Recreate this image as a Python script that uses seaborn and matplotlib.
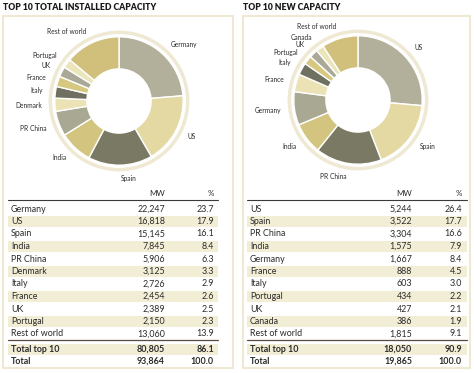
import numpy as np
import matplotlib.pyplot as plt
import seaborn as sns
from matplotlib.patches import Rectangle, Circle

# Top 10 total installed capacity (MW, %)
totalCountries = ['Germany', 'US', 'Spain', 'India', 'PR China', 'Denmark', 'Italy',
                  'France', 'UK', 'Portugal', 'Rest of world']
totalMW = [22247, 16818, 15145, 7845, 5906, 3125, 2726, 2454, 2389, 2150, 13060]
totalPct = [23.7, 17.9, 16.1, 8.4, 6.3, 3.3, 2.9, 2.6, 2.5, 2.3, 13.9]
totalSumMW = [80805, 93864]
totalSumPct = [86.1, 100.0]

# Top 10 new capacity (MW, %)
newCountries = ['US', 'Spain', 'PR China', 'India', 'Germany', 'France', 'Italy',
                'Portugal', 'UK', 'Canada', 'Rest of world']
newMW = [5244, 3522, 3304, 1575, 1667, 888, 603, 434, 427, 386, 1815]
newPct = [26.4, 17.7, 16.6, 7.9, 8.4, 4.5, 3.0, 2.2, 2.1, 1.9, 9.1]
newSumMW = [18050, 19865]
newSumPct = [90.9, 100.0]

sumLabels = ['Total top 10', 'Total']

sns.set_style('white')
plt.rcParams['font.family'] = ['Lato', 'DejaVu Sans']

sliceColors = sns.color_palette(['#b2b09a', '#e4d9a3', '#7a7a64', '#d3c580', '#a9a893',
                                 '#ebe2b6', '#6f7060', '#d6c880', '#aaa998', '#ece4bb',
                                 '#d0c07b'])
bandColor = '#f2edd5'
boxColor = '#efe9d3'
textColor = '#2b2b2b'
tableSize = 6.4

W, H = 474, 373


def drawDonut(fig, cx, cy, values, labels):
    size = 190
    ax = fig.add_axes([(cx - size / 2) / W, 1 - (cy + size / 2) / H, size / W, size / H])
    ax.pie(values, colors=sliceColors, startangle=90, counterclock=False,
           labels=labels, labeldistance=1.2,
           wedgeprops=dict(width=0.5, edgecolor='white', linewidth=1),
           textprops=dict(fontsize=4.8, color=textColor))
    ax.add_patch(Circle((0, 0), 1.07, fill=False, edgecolor=boxColor, lw=2.5))
    ax.set_xlim(-1.48, 1.48)
    ax.set_ylim(-1.48, 1.48)
    ax.set_aspect('equal')
    ax.axis('off')
    return ax


def drawTable(bg, cols, countries, mw, pct, sumMW, sumPct):
    left, labelX, mwX, pctX, right = cols
    bg.text(mwX, 194, 'MW', ha='right', va='center', fontsize=5.8, color=textColor)
    bg.text(pctX, 194, '%', ha='right', va='center', fontsize=5.8, color=textColor)
    bg.plot([left, right], [200, 200], color='#3a3a3a', lw=0.8)

    for i, (name, v, p) in enumerate(zip(countries, mw, pct)):
        y = 209 + 12.5 * i
        if i % 2 == 1:
            bg.add_patch(Rectangle((left, y - 5.5), right - left, 11, color=bandColor, lw=0))
        bg.text(labelX, y, name, va='center', fontsize=tableSize, color=textColor)
        bg.text(mwX, y, f'{v:,}', ha='right', va='center', fontsize=tableSize, color=textColor)
        bg.text(pctX, y, f'{p:.1f}', ha='right', va='center', fontsize=tableSize, color=textColor)

    bg.plot([left, right], [340, 340], color='#5a4a40', lw=0.9)
    for i, (name, v, p) in enumerate(zip(sumLabels, sumMW, sumPct)):
        y = 349 + 12 * i
        if i == 0:
            bg.add_patch(Rectangle((left, y - 5.5), right - left, 11, color=bandColor, lw=0))
        bg.text(labelX, y, name, va='center', fontsize=tableSize, color=textColor, fontweight='bold')
        bg.text(mwX, y, f'{v:,}', ha='right', va='center', fontsize=tableSize, color=textColor,
                fontweight='bold')
        bg.text(pctX, y, f'{p:.1f}', ha='right', va='center', fontsize=tableSize, color=textColor,
                fontweight='bold')


def drawPanel(fig, bg, x0, x1, title, center, cols, countries, mw, pct, sumMW, sumPct):
    bg.text(x0, 8, title, va='center', fontsize=6.2, fontweight='heavy', color='#1a1a1a')
    bg.add_patch(Rectangle((x0, 16), x1 - x0, 352, fill=False, edgecolor=boxColor, lw=1.5))
    drawTable(bg, cols, countries, mw, pct, sumMW, sumPct)
    drawDonut(fig, center[0], center[1], mw, countries)


fig = plt.figure(figsize=(W / 100, H / 100), dpi=100)
bg = fig.add_axes([0, 0, 1, 1])
bg.set_xlim(0, W)
bg.set_ylim(H, 0)
bg.axis('off')

drawPanel(fig, bg, 3, 233, 'TOP 10 TOTAL INSTALLED CAPACITY', (119, 101),
          (8, 11, 165, 214, 218), totalCountries, totalMW, totalPct, totalSumMW, totalSumPct)
drawPanel(fig, bg, 243, 470, 'TOP 10 NEW CAPACITY', (358, 100),
          (247, 250, 412, 462, 467), newCountries, newMW, newPct, newSumMW, newSumPct)

fig.savefig('out.png', dpi=100)
